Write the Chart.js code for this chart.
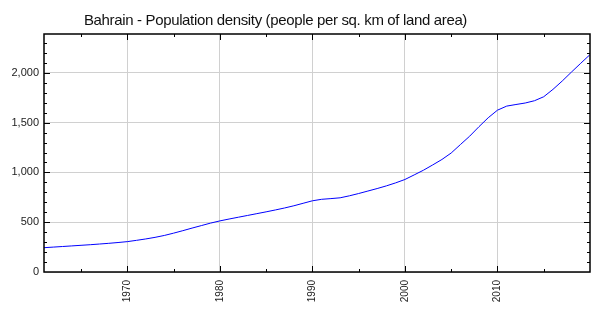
<!DOCTYPE html>
<html>
<head>
<meta charset="utf-8">
<script src="https://cdn.jsdelivr.net/npm/chart.js@4/dist/chart.umd.min.js"></script>
<style>
  html, body { margin: 0; padding: 0; background: #fff; }
  #wrap { position: relative; width: 600px; height: 315px; }
  #title {
    position: absolute; left: 0; width: 551px; top: 11px;
    text-align: center; font: 15px "Liberation Sans", Arial, sans-serif; color: #111;
    letter-spacing: -0.35px; white-space: nowrap;
  }
</style>
</head>
<body>
<div id="wrap">
  <div id="title">Bahrain - Population density (people per sq. km of land area)</div>
  <canvas id="chart" width="600" height="315"></canvas>
</div>
<script>
// Bahrain population density
const years = [];
for (let y = 1961; y <= 2020; y++) years.push(y);

const density = [
  244, 250, 256, 262, 268, 274, 281, 288, 296, 305,
  318, 332, 348, 367, 390, 415, 441, 466, 491, 513,
  532, 550, 568, 586, 604, 623, 643, 665, 690, 715,
  730, 737, 745, 765, 788, 813, 838, 865, 895, 929,
  975, 1022, 1075, 1130, 1195, 1280, 1364, 1459, 1549, 1625,
  1666, 1682, 1697, 1720, 1760, 1834, 1918, 2008, 2096, 2183
];

const xTicks = [1970, 1980, 1990, 2000, 2010];
const xMinorTicks = [1965, 1975, 1985, 1995, 2005, 2015];
const yTicks = [0, 500, 1000, 1500, 2000];
const yMinorStep = 100;

const X_MIN = 1961, X_MAX = 2020, Y_MIN = 0, Y_MAX = 2390;

// box frame with inward tick marks on all four sides
const framePlugin = {
  id: 'frame',
  afterDatasetsDraw(chart) {
    const { ctx, chartArea: a, scales } = chart;
    const xs = scales.x, ys = scales.y;
    ctx.save();
    ctx.strokeStyle = '#000';
    ctx.lineWidth = 1;
    ctx.beginPath();
    const tick = (x1, y1, x2, y2) => { ctx.moveTo(x1, y1); ctx.lineTo(x2, y2); };
    xTicks.forEach(v => {
      const p = Math.round(xs.getPixelForValue(v)) + 0.5;
      tick(p, a.bottom, p, a.bottom - 6);
      tick(p, a.top, p, a.top + 6);
    });
    xMinorTicks.forEach(v => {
      const p = Math.round(xs.getPixelForValue(v)) + 0.5;
      tick(p, a.bottom, p, a.bottom - 3);
      tick(p, a.top, p, a.top + 3);
    });
    for (let v = yMinorStep; v < Y_MAX; v += yMinorStep) {
      const p = Math.round(ys.getPixelForValue(v)) + 0.5;
      const len = v % 500 === 0 ? 6 : 3;
      tick(a.left, p, a.left + len, p);
      tick(a.right, p, a.right - len, p);
    }
    ctx.stroke();
    ctx.lineWidth = 1.5;
    ctx.strokeRect(a.left, a.top, a.right - a.left, a.bottom - a.top);
    ctx.restore();
  }
};

new Chart(document.getElementById('chart'), {
  type: 'line',
  data: {
    labels: years,
    datasets: [{
      data: years.map((y, i) => ({ x: y, y: density[i] })),
      borderColor: '#0000ff',
      borderWidth: 1,
      pointRadius: 0,
      tension: 0,
      fill: false
    }]
  },
  options: {
    responsive: false,
    animation: false,
    layout: { padding: { top: 34, right: 10, left: 0, bottom: 0 } },
    plugins: { legend: { display: false }, tooltip: { enabled: false } },
    scales: {
      x: {
        type: 'linear',
        min: X_MIN,
        max: X_MAX,
        afterBuildTicks: s => { s.ticks = xTicks.map(v => ({ value: v })); },
        afterFit: s => { s.height = 43; },
        grid: { color: '#d0d0d0', drawTicks: false },
        border: { display: false },
        ticks: {
          minRotation: 90, maxRotation: 90, padding: 8,
          color: '#222',
          font: { family: '"Liberation Sans", Arial, sans-serif', size: 10 },
          callback: v => String(v)
        }
      },
      y: {
        min: Y_MIN,
        max: Y_MAX,
        afterBuildTicks: s => { s.ticks = yTicks.map(v => ({ value: v })); },
        afterFit: s => { s.width = 44; },
        grid: { color: '#d0d0d0', drawTicks: false },
        border: { display: false },
        ticks: {
          padding: 5,
          color: '#222',
          font: { family: '"Liberation Sans", Arial, sans-serif', size: 11 },
          callback: v => v.toLocaleString('en-US')
        }
      }
    }
  },
  plugins: [framePlugin]
});
</script>
</body>
</html>
